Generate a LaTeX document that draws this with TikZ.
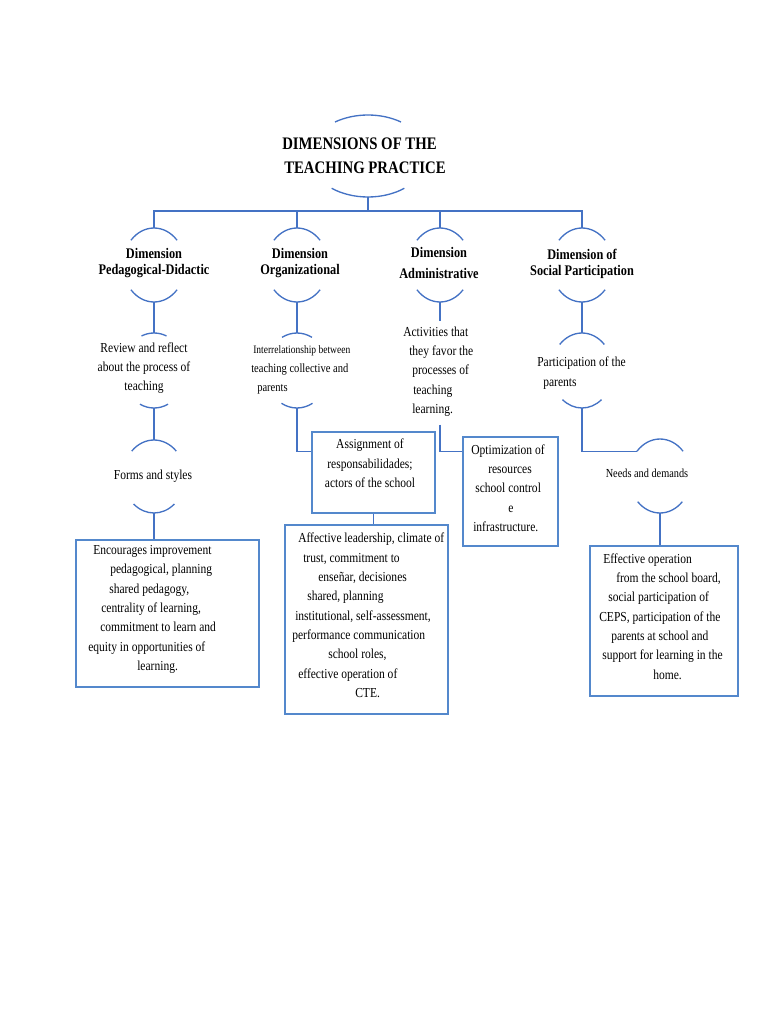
\documentclass[tikz,border=0pt]{standalone}
\usepackage{fontspec}
\setmainfont[FakeStretch=0.84]{Liberation Serif}
\usepackage{tikz}
\usetikzlibrary{calc,fit}
\definecolor{linkblue}{RGB}{68,114,196}
\definecolor{boxblue}{RGB}{84,136,204}
\tikzset{
  conn/.style={draw=linkblue, line width=1pt},
  frame/.style={draw=boxblue, line width=1pt, inner sep=0pt},
  body/.style={font=\fontsize{10.3}{14.5}\selectfont, inner sep=0pt, align=left, anchor=west},
  dimlabel/.style={font=\bfseries\fontsize{11}{12}\selectfont, inner sep=0pt, align=center},
}

\begin{document}
\begin{tikzpicture}[x=0.75pt,y=0.75pt]
  \useasboundingbox (0,0) rectangle (768,-1024);

  % arcs round the texts
  \foreach \n/\cx/\cy/\rx/\ry/\ta/\ba in {tit/368/156/59/41/34/38, ped/154/265/31/37/48/48,
      org/297/265/31/37/48/48, adm/440/265/31/37/48/48, soc/582/265/31/37/48/48,
      rev/154/370.5/32/37.5/23/26, int/297/370.5/32/37.5/28/29, par/582/370.5/31/37.5/46/39,
      frm/154/476.5/31/36.5/46/41, nds/660/476/31/37/48/46} {
    \coordinate (\n-t) at (\cx,{\ry-\cy});
    \coordinate (\n-b) at (\cx,{-\ry-\cy});
    \draw[conn] (\n-t) arc[start angle=90, end angle={90+\ta}, x radius=\rx, y radius=\ry] coordinate (\n-tl);
    \draw[conn] (\n-t) arc[start angle=90, end angle={90-\ta}, x radius=\rx, y radius=\ry];
    \draw[conn] (\n-b) arc[start angle=270, end angle={270-\ba}, x radius=\rx, y radius=\ry];
    \draw[conn] (\n-b) arc[start angle=270, end angle={270+\ba}, x radius=\rx, y radius=\ry];
  }

  \node[font=\bfseries\fontsize{13.2}{18}\selectfont, inner sep=0pt, align=left, anchor=west] (title) at (282,-155.5)
    {DIMENSIONS OF THE\\\hspace*{1.5pt}TEACHING PRACTICE};

  \node[dimlabel] (pedlabel) at (154,-263) {Dimension\\Pedagogical-Didactic};
  \node[dimlabel] (orglabel) at (300,-263) {Dimension\\Organizational};
  \node[dimlabel, font=\bfseries\fontsize{11}{15.75}\selectfont] (admlabel) at (439,-262.5) {Dimension\\Administrative};
  \node[dimlabel] (soclabel) at (582,-263.5) {Dimension of\\Social Participation};

  \node[body, align=center, anchor=center] (review) at (144,-368) {Review and reflect\\about the process of\\teaching};
  \node[body, anchor=center] (forms) at (153,-476) {Forms and styles};
  \node[body, font=\fontsize{9.4}{14.5}\selectfont] (inter) at (251,-370)
    {\hspace*{1.5pt}{\fontsize{8.5}{14.5}\selectfont Interrelationship between}\\teaching collective and\\\hspace*{4.5pt}parents};
  \node[body] (activ) at (403,-371.5)
    {Activities that\\\hspace*{4.5pt}they favor the\\\hspace*{6.75pt}processes of\\\hspace*{7.5pt}teaching\\\hspace*{6.75pt}learning.};
  \node[body] (partic) at (537,-373) {Participation of the\\\hspace*{4.5pt}parents};
  \node[body, font=\fontsize{9.2}{14.5}\selectfont, anchor=center] (needs) at (647,-473) {Needs and demands};

  % boxes
  \node[frame, fit={(76,-540) (259,-687)}] (pedbox) {};
  \node[frame, fit={(312,-432) (435,-513)}] (asgbox) {};
  \node[frame, fit={(285,-525) (448,-714)}] (leadbox) {};
  \node[frame, fit={(463,-437) (558,-546)}] (optbox) {};
  \node[frame, fit={(590,-546) (738,-696)}] (cepsbox) {};

  \node[body] (improve) at (88,-609.5)
    {\hspace*{3.75pt}Encourages improvement\\\hspace*{16.5pt}pedagogical, planning\\\hspace*{15.75pt}shared pedagogy,\\
     \hspace*{9.75pt}centrality of learning,\\\hspace*{9pt}commitment to learn and\\equity in opportunities of\\\hspace*{36.75pt}learning.};
  \node[body, align=center, anchor=center] (assign) at (370,-463.5) {Assignment of\\responsabilidades;\\actors of the school};
  \node[body] (leader) at (292,-615.5)
    {\hspace*{4.5pt}Affective leadership, climate of\\\hspace*{8.25pt}trust, commitment to\\\hspace*{19.5pt}enseñar, decisiones\\
     \hspace*{11.25pt}shared, planning\\\hspace*{2.25pt}institutional, self-assessment,\\performance communication\\
     \hspace*{27pt}school roles,\\\hspace*{4.5pt}effective operation of\\\hspace*{47.25pt}CTE.};
  \node[body] (optim) at (471,-488)
    {Optimization of\\\hspace*{12.75pt}resources\\\hspace*{3pt}school control\\\hspace*{27.75pt}e\\\hspace*{1.5pt}infrastructure.};
  \node[body] (ceps) at (599,-616.5)
    {\hspace*{3pt}Effective operation\\\hspace*{12.75pt}from the school board,\\\hspace*{6.75pt}social participation of\\
     CEPS, participation of the\\\hspace*{9pt}parents at school and\\\hspace*{2.25pt}support for learning in the\\\hspace*{40.5pt}home.};

  % connectors
  \draw[conn] (tit-b) -- ++(0,-14) coordinate (bus);
  \draw[conn] (ped-t) -- (ped-t |- bus) -- (soc-t |- bus) -- (soc-t);
  \draw[conn] (org-t) -- (org-t |- bus);
  \draw[conn] (adm-t) -- (adm-t |- bus);
  \draw[conn] (ped-b) -- (rev-t);
  \draw[conn] (rev-b) -- (frm-t);
  \draw[conn] (frm-b) -- (frm-b |- pedbox.north);
  \draw[conn] (org-b) -- (int-t);
  \draw[conn] (int-b) |- ($(asgbox.north west)+(0,-20)$);
  \draw[conn] (asgbox.south) -- (asgbox.south |- leadbox.north);
  \draw[conn] (adm-b) -- ($(adm-b |- activ.north)+(0,5)$);
  \draw[conn] ($(activ.south -| adm-b)+(0,-8)$) |- ($(optbox.north west)+(0,-15)$);
  \draw[conn] (soc-b) -- (par-t);
  \draw[conn] (par-b) |- (nds-tl);
  \draw[conn] (nds-b) -- (nds-b |- cepsbox.north);
\end{tikzpicture}
\end{document}
